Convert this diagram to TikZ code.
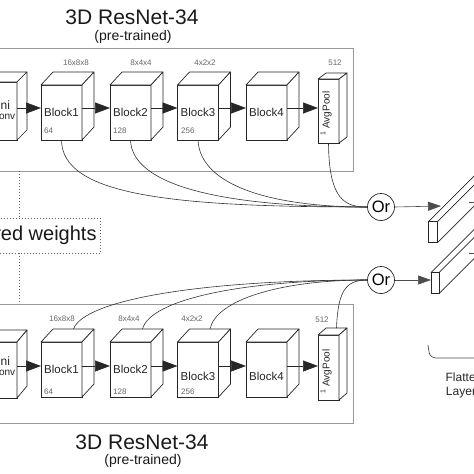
\documentclass[tikz,border=0pt]{standalone}
\usepackage{fontspec}
\setmainfont{Liberation Sans}
\usetikzlibrary{arrows.meta,calc}
\newcommand\myCube[7]{% name, cx, cy, w, h, dx, dy(up)
  \node[face,minimum width=#4pt,minimum height=#5pt] (#1) at (#2,#3) {};
  \draw[side] (#1.north west) -- ++(#6,-#7) -- ++(#4,0) -- (#1.north east) -- cycle;
  \draw[side] (#1.north east) -- ++(#6,-#7) -- ($(#1.south east)+(#6,-#7)$) -- (#1.south east) -- cycle;
  \coordinate (#1-top) at ($(#1.north)+(#6,-#7)$);
}
\begin{document}
\begin{tikzpicture}[x=1pt,y=-1pt,
  face/.style={draw=black!85,fill=white,line width=0.7pt,inner sep=0pt,outer sep=0pt},
  side/.style={draw=black!85,fill=white,line width=0.7pt,line join=round},
  frame/.style={draw=black!40,line width=1pt,inner sep=0pt,outer sep=0pt},
  lbl/.style={font=\fontsize{11.5}{12}\selectfont,text=black!85,inner sep=0pt},
  dim/.style={font=\fontsize{8}{9}\selectfont,text=black!60,inner sep=0pt},
  num/.style={font=\fontsize{8}{9}\selectfont,text=black!60,inner sep=0pt,anchor=west},
  flow/.style={line width=0.7pt,black!85,-{Triangle[length=15pt,width=11pt]}},
  oarrow/.style={line width=0.6pt,black!70,-{Triangle[length=13pt,width=9pt]}},
  link/.style={line width=0.6pt,black!80},
  ornode/.style={circle,draw=black!85,fill=white,line width=0.7pt,minimum size=27pt,inner sep=0pt,font=\fontsize{16.5}{16.5}\selectfont},
  dotline/.style={draw=black!60,line width=0.9pt,dash pattern=on 1pt off 2pt},
  title/.style={font=\fontsize{21}{22}\selectfont,text=black!90,inner sep=0pt},
  subtitle/.style={font=\fontsize{14}{15}\selectfont,text=black!90,inner sep=0pt},
  bar/.style={draw=black!85,fill=white,line width=0.7pt,line join=round},
]
\useasboundingbox (0,0) rectangle (474,474);

% titles
\node[title] (t1) at (132,17) {3D ResNet-34};
\node[subtitle] (s1) at (133,37) {(pre-trained)};
\node[title] (t2) at (142,442) {3D ResNet-34};
\node[subtitle] (s2) at (143,461) {(pre-trained)};

% frames
\node[frame,minimum width=358pt,minimum height=123pt] (fr1) at (174,109.5) {};
\node[frame,minimum width=358pt,minimum height=119pt] (fr2) at (174,363.5) {};

% shared weights
\node[draw=black!60,line width=0.9pt,dash pattern=on 1pt off 2pt,anchor=east,
      minimum height=35pt,inner xsep=4pt,font=\fontsize{20}{20}\selectfont,text=black!90] (sw) at (101,235.5) {Shared weights};
\coordinate (dx) at (19,0);
\draw[dotline] (fr1.south -| dx) -- (sw.north -| dx);
\draw[dotline] (sw.south -| dx) -- (fr2.north -| dx);

% top row
\myCube{ia}{-3.5}{111}{41}{58}{10}{10}
\myCube{a1}{61.5}{112.5}{41}{55}{12}{13}
\myCube{a2}{130.5}{112.5}{41}{55}{12}{13}
\myCube{a3}{198}{112.5}{41}{55}{12}{13}
\myCube{a4}{266.5}{112.5}{41}{55}{12}{13}
\myCube{ap}{328.5}{111}{21}{64}{8}{6}

\node[font=\fontsize{12}{12}\selectfont,text=black!85,inner sep=0pt] (iat) at (3.6,105) {Ini};
\node[font=\fontsize{10}{10}\selectfont,text=black!85,inner sep=0pt] (iac) at (4.6,117) {conv};
\node[lbl] (la1) at (a1) {Block1};
\node[lbl] (la2) at (a2) {Block2};
\node[lbl] (la3) at (a3) {Block3};
\node[lbl] (la4) at (a4) {Block4};
\node[font=\fontsize{10}{10}\selectfont,text=black!85,inner sep=0pt,rotate=90] (lap) at (327,110) {AvgPool};
\node[font=\fontsize{7}{7}\selectfont,text=black!85,inner sep=0pt,rotate=90] (lap1) at (323,134) {1};
\node[num] (na1) at (44,131) {64};
\node[num] (na2) at (113,131) {128};
\node[num] (na3) at (181,131) {256};
\node[dim] (da1) at (76,63) {16x8x8};
\node[dim] (da2) at (141,63) {8x4x4};
\node[dim] (da3) at (205,63) {4x2x2};
\node[dim] (dap) at (335,63) {512};

\draw[flow] ([yshift=3pt]ia.east) -- ([yshift=4.5pt]a1.west);
\draw[flow] ([yshift=4.5pt]a1.east) -- ([yshift=4.5pt]a2.west);
\draw[flow] ([yshift=4.5pt]a2.east) -- ([yshift=4.5pt]a3.west);
\draw[flow] ([yshift=4.5pt]a3.east) -- ([yshift=4.5pt]a4.west);
\draw[flow] ([yshift=4.5pt]a4.east) -- ([yshift=3pt]ap.west);

% bottom row
\myCube{ib}{-3.5}{370}{41}{56}{10}{12}
\myCube{b1}{61.5}{369.5}{41}{55}{12}{13}
\myCube{b2}{130.5}{369.5}{41}{55}{12}{13}
\myCube{b3}{198}{369.5}{41}{55}{12}{13}
\myCube{b4}{266.5}{369.5}{41}{55}{12}{13}
\myCube{bp}{328.5}{367.5}{21}{65}{8}{7}

\node[font=\fontsize{12}{12}\selectfont,text=black!85,inner sep=0pt] (ibt) at (3.6,361) {Ini};
\node[font=\fontsize{10}{10}\selectfont,text=black!85,inner sep=0pt] (ibc) at (4.6,373) {conv};
\node[lbl] (lb1) at (b1) {Block1};
\node[lbl] (lb2) at (b2) {Block2};
\node[lbl] (lb3) at (198,376) {Block3};
\node[lbl] (lb4) at (266.5,376) {Block4};
\node[font=\fontsize{10}{10}\selectfont,text=black!85,inner sep=0pt,rotate=90] (lbp) at (327,368) {AvgPool};
\node[font=\fontsize{7}{7}\selectfont,text=black!85,inner sep=0pt,rotate=90] (lbp1) at (323,392) {1};
\node[num] (nb1) at (44,392) {64};
\node[num] (nb2) at (113,392) {128};
\node[num] (nb3) at (181,392) {256};
\node[dim] (db1) at (62,319) {16x8x8};
\node[dim] (db2) at (129,319) {8x4x4};
\node[dim] (db3) at (192,319) {4x2x2};
\node[dim] (dbp) at (322,320) {512};

\draw[flow] ([yshift=4pt]ib.east) -- ([yshift=3.5pt]b1.west);
\draw[flow] ([yshift=3.5pt]b1.east) -- ([yshift=3.5pt]b2.west);
\draw[flow] ([yshift=3.5pt]b2.east) -- ([yshift=3.5pt]b3.west);
\draw[flow] ([yshift=3.5pt]b3.east) -- ([yshift=3.5pt]b4.west);
\draw[flow] ([yshift=3.5pt]b4.east) -- ([yshift=1.5pt]bp.west);

% Or nodes
\node[ornode] (or1) at (381,207) {Or};
\node[ornode] (or2) at (381,280) {Or};

% top curves
\draw[link] (a1.south) .. controls (62,195) and (170,207) .. (or1.west);
\draw[link] (a2.south) .. controls (132,185) and (220,207) .. (or1.west);
\draw[link] (a3.south) .. controls (200,185) and (270,207) .. (or1.west);
\draw[link] (ap.south) .. controls (329,200) and (345,207) .. (or1.west);
% bottom curves
\draw[link] (b1-top) .. controls (84,300) and (200,280) .. (or2.west);
\draw[link] (b2-top) .. controls (150,300) and (240,280) .. (or2.west);
\draw[link] (b3-top) .. controls (216,300) and (280,280) .. (or2.west);
\draw[link] (bp-top) .. controls (338,292) and (345,280) .. (or2.west);

% flatten layers
\node[face,minimum width=9pt,minimum height=21pt] (fl1) at (433,232) {};
\filldraw[bar] (fl1.north west) -- ++(70,-70) -- ++(9,0) -- ($(fl1.south east)+(70,-70)$) -- (fl1.south east) -- (fl1.north east) -- cycle;
\draw[bar] (fl1.north east) -- ++(70,-70);
\node[face,minimum width=9pt,minimum height=21pt] (fl1f) at (fl1) {};
\node[face,minimum width=8pt,minimum height=21pt] (fl2) at (435,283) {};
\filldraw[bar] (fl2.north west) -- ++(70,-70) -- ++(8,0) -- ($(fl2.south east)+(70,-70)$) -- (fl2.south east) -- (fl2.north east) -- cycle;
\draw[bar] (fl2.north east) -- ++(70,-70);
\node[face,minimum width=8pt,minimum height=21pt] (fl2f) at (fl2) {};
\coordinate (tp1) at (441,206);
\draw[oarrow] (or1.east) -- (tp1);
\draw[oarrow] (or2.east) -- (fl2.west |- or2.east);
\coordinate (k1) at (469,202);
\coordinate (k2) at (469,253);
\draw[black!70,line width=0.7pt] (k1) -- ++(6,0);
\draw[black!70,line width=0.7pt] (k2) -- ++(6,0);

\coordinate (br0) at (428,345);
\draw[black!70,line width=0.7pt] (br0) -- ++(1,7) to[out=-80,in=180] ++(7,6) -- ++(50,0);
\node[font=\fontsize{12}{14}\selectfont,text=black!85,align=center,inner sep=0pt] (fll) at (464,385) {Flatten\\Layers};
\end{tikzpicture}
\end{document}
